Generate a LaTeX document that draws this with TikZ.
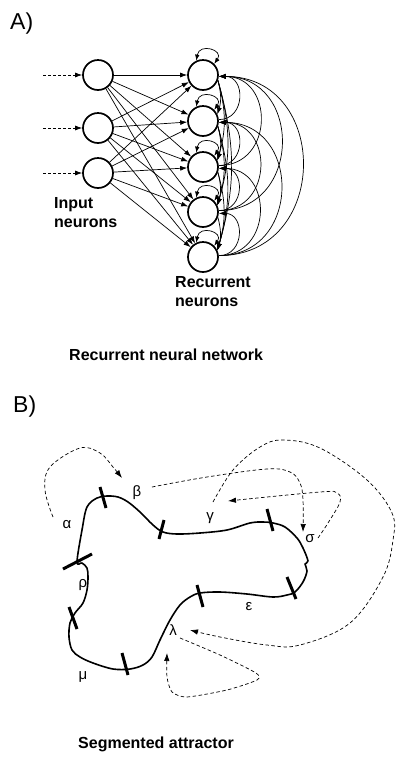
\documentclass[tikz,border=0pt]{standalone}
\usepackage{fontspec}
\setmainfont{Liberation Sans}
\usetikzlibrary{arrows.meta}
\tikzset{
  neuron/.style={circle, draw, line width=1.7pt, minimum size=30pt, inner sep=0pt},
  syn/.style={draw, line width=0.7pt, -{Latex[length=7pt,width=5pt]}},
  feed/.style={draw, dash pattern=on 3pt off 2pt, line width=0.7pt, -{Latex[length=7pt,width=5pt]}},
  jump/.style={draw, dash pattern=on 3.5pt off 2.5pt, line width=0.7pt, -{Latex[length=8pt,width=5.5pt]}},
  track/.style={draw, line width=1.6pt, line join=round},
  cut/.style={draw, line width=3pt},
  lab/.style={font=\fontsize{16}{19}\selectfont\bfseries, align=left, inner sep=0pt},
  panel/.style={font=\fontsize{23}{26}\selectfont, inner sep=0pt},
  greek/.style={font=\fontsize{15}{17}\selectfont, inner sep=0pt},
}
\begin{document}
\begin{tikzpicture}[x=1pt, y=1pt]
  \useasboundingbox (0,0) rectangle (417,-764);
  % A) recurrent network
  \node[panel, anchor=north west] (pa) at (10,-13) {A)};
  \foreach \i/\y in {1/75,2/128,3/173}{
    \node[neuron] (in\i) at (98,-\y) {};
    \coordinate (src\i) at (43,-\y);
    \draw[feed] (src\i) -- (in\i);
  }
  \foreach \i/\y in {1/75,2/121,3/167,4/212,5/257}
    \node[neuron] (r\i) at (203,-\y) {};
  \foreach \i in {1,2,3}
    \foreach \j in {1,...,5}
      \draw[syn] (in\i) -- (r\j);
  \foreach \i in {1,...,5}
    \draw[syn, {Latex[length=6pt,width=4.5pt]}-{Latex[length=6pt,width=4.5pt]}]
      (r\i.115) .. controls +(3,18) and +(10,14) .. (r\i.45);
  \foreach \i/\jlist in {1/{2,3,4,5},2/{3,4,5},3/{4,5},4/{5}}
    \foreach \j in \jlist {
      \draw[syn] (r\i.-20) to[bend left=16] (r\j.25);
      \draw[syn] (r\j.5) to[out=0, in=0, looseness=1.6] (r\i.-5);
    }
  \node[lab, anchor=north west] (inlab) at (54,-197) {Input\\neurons};
  \node[lab, anchor=north west] (reclab) at (175,-276) {Recurrent\\neurons};
  \node[lab, anchor=north west] (titlea) at (69,-349) {Recurrent neural network};
  % B) segmented attractor
  \node[panel, anchor=north west] (pb) at (13,-396) {B)};
  \draw[track] plot[smooth cycle, tension=0.55] coordinates {
    (77,-562) (82,-530) (87,-507) (97,-498) (107,-496) (118,-497) (128,-502)
    (140,-512) (153,-525) (163,-532) (177,-534) (200,-533) (227,-530)
    (250,-523) (263,-522) (273,-523) (285,-527) (297,-538) (303,-548)
    (308,-561) (305,-564) (307,-571) (303,-582) (295,-592) (287,-595)
    (273,-597) (247,-594) (220,-592) (200,-593) (190,-597) (180,-605)
    (170,-620) (160,-640) (152,-657) (143,-665) (130,-669) (113,-669)
    (93,-663) (80,-657) (72,-650) (69,-637) (70,-623) (75,-613) (83,-603)
    (87,-590) (88,-577) (87,-568) (82,-563)};
  \foreach \ax/\ay/\bx/\by in {63/569/92/554, 100/487/106/508, 164/520/159/539,
      267/509/273/531, 287/577/296/599, 197/585/203/607, 69/607/77/629,
      122/653/128/675}
    \draw[cut] (\ax,-\ay) -- (\bx,-\by);
  \node[greek] (al) at (67,-525) {α};
  \node[greek] (be) at (137,-493) {β};
  \node[greek] (ga) at (210,-518) {γ};
  \node[greek] (si) at (310,-539) {σ};
  \node[greek] (rh) at (83,-585) {ρ};
  \node[greek] (ep) at (249,-607) {ε};
  \node[greek] (la) at (173,-630) {λ};
  \node[greek] (mu) at (83,-677) {μ};
  \draw[jump] plot[smooth, tension=0.6] coordinates {
    (53,-517) (45,-490) (50,-467) (80,-448) (100,-453) (113,-467) (122,-478)};
  \draw[jump] plot[smooth, tension=0.6] coordinates {
    (152,-487) (207,-477) (267,-469) (290,-472) (300,-483) (303,-500) (303,-532)};
  \draw[jump] plot[smooth, tension=0.6] coordinates {
    (318,-538) (328,-523) (340,-502) (337,-493) (320,-492) (228,-501)};
  \draw[jump] plot[smooth, tension=0.6] coordinates {
    (213,-502) (233,-470) (260,-447) (283,-440) (320,-448) (367,-480)
    (392,-513) (393,-540) (383,-577) (350,-623) (300,-645) (267,-645)
    (220,-637) (190,-630)};
  \draw[jump] plot[smooth, tension=0.4] coordinates {
    (180,-638) (220,-655) (256,-673) (257,-680) (227,-690) (187,-697)
    (172,-692) (167,-677) (167,-653)};
  \node[lab, anchor=north west] (titleb) at (78,-737) {Segmented attractor};
\end{tikzpicture}
\end{document}
